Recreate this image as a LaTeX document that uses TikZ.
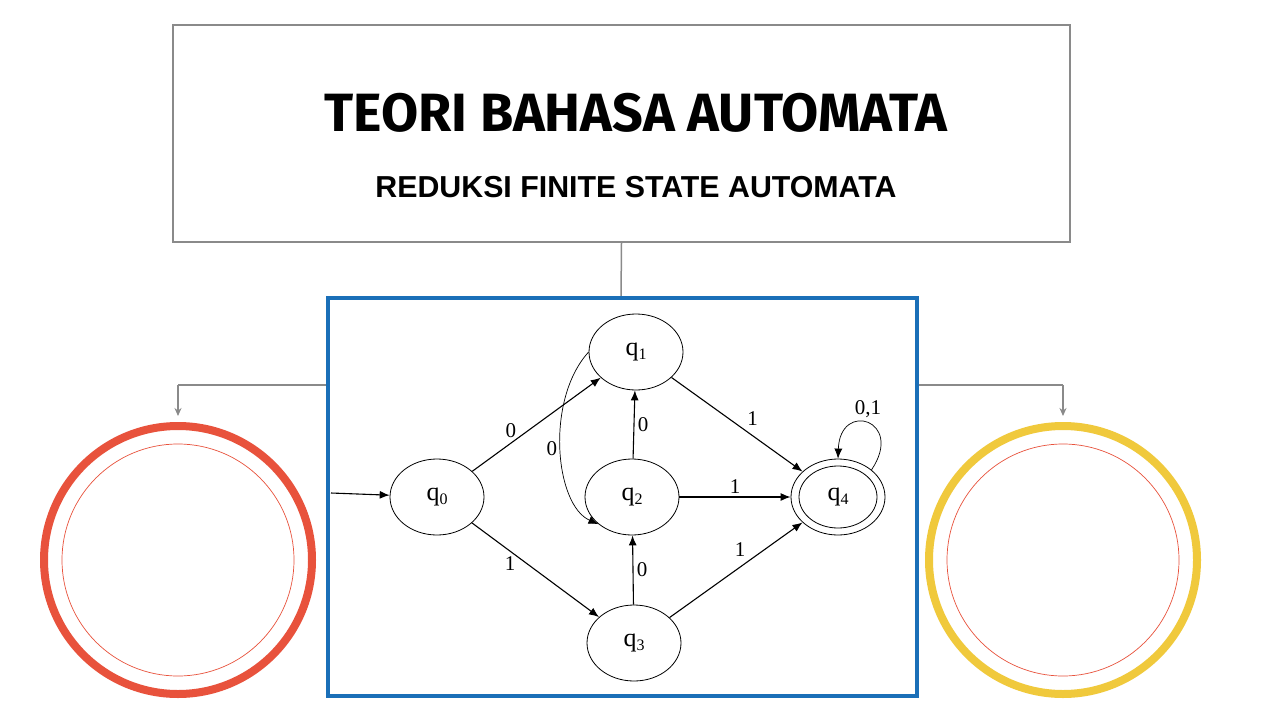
\documentclass[tikz,border=0pt]{standalone}
\usepackage{fontspec}
\setmainfont{Liberation Serif}
\newfontfamily\titlefont{Fira Sans}
\newfontfamily\subfont{Liberation Sans}
\usetikzlibrary{arrows.meta,shapes.geometric}
\definecolor{frame}{HTML}{8A8A8A}
\definecolor{bluebox}{HTML}{1A6FB8}
\definecolor{redc}{HTML}{E8523C}
\definecolor{yelc}{HTML}{F0C93C}
\newcommand{\qs}[1]{q\raisebox{-0.35ex}{\fontsize{16}{16}\selectfont #1}}
\begin{document}
\begin{tikzpicture}[x=1pt,y=-1pt,
  st/.style={draw,ellipse,line width=0.8pt,minimum width=94pt,minimum height=76pt,inner sep=0pt,font=\fontsize{26}{26}\selectfont},
  ed/.style={-{Latex[length=10pt,width=8pt]},line width=1.1pt},
  lb/.style={font=\fontsize{21}{21}\selectfont},
  gl/.style={draw=frame,line width=1.5pt}]
\useasboundingbox (0,0) rectangle (1280,720);
\fill[white] (0,0) rectangle (1280,720);
% title box
\node[gl,minimum width=897pt,minimum height=217pt,inner sep=0pt] (title) at (621.5,133.5) {};
\node (t1) at (636,113) {\resizebox{623pt}{!}{\titlefont\bfseries TEORI BAHASA AUTOMATA}};
\node (t2) at (636,187) {\resizebox{521pt}{!}{\subfont\bfseries REDUKSI FINITE STATE AUTOMATA}};
% connectors
\coordinate (cL) at (178,385); \coordinate (cR) at (1063,385);
\draw[gl] (title.south) -- (621,298);
\draw[gl] (cL) -- (1063,385);
\draw[gl,-{Stealth[length=8pt,width=7pt]}] (cL) -- (178,416);
\draw[gl,-{Stealth[length=8pt,width=7pt]}] (cR) -- (1063,416);
% circles
\node[draw=redc,line width=8pt,circle,minimum size=268pt] (rc) at (178,560) {};
\node[draw=redc,line width=0.7pt,circle,minimum size=232pt] (rci) at (178,560) {};
\node[draw=yelc,line width=8pt,circle,minimum size=268pt] (yc) at (1063,560) {};
\node[draw=redc,line width=0.7pt,circle,minimum size=232pt] (yci) at (1063,560) {};
% blue box
\node[draw=bluebox,fill=white,line width=4pt,minimum width=589pt,minimum height=398pt,inner sep=0pt] (bb) at (622.5,497) {};
% automaton
\node[st] (q0) at (437,497) {\qs{0}};
\node[st] (q1) at (636,352) {\qs{1}};
\node[st] (q2) at (632,497) {\qs{2}};
\node[st] (q3) at (634,643) {\qs{3}};
\node[st] (q4) at (838,497) {\qs{4}};
\node[draw,ellipse,line width=0.8pt,minimum width=78pt,minimum height=62pt] (q4i) at (838,497) {};
\coordinate (in) at (331,493);
\draw[ed] (in) -- (q0);
\draw[ed] (q0) -- node[lb,above,pos=0.3,yshift=2pt] {0} (q1);
\draw[ed] (q0) -- node[lb,below,pos=0.3,yshift=-2pt] {1} (q3);
\draw[ed] (q1) -- node[lb,above right,pos=0.55] {1} (q4);
\draw[ed] (q2) -- node[lb,right] {0} (q1);
\draw[ed] (q3) -- node[lb,right] {0} (q2);
\draw[ed] (q2) -- node[lb,above] {1} (q4);
\draw[ed] (q3) -- node[lb,above left,pos=0.6] {1} (q4);
\draw[ed,line width=0.7pt] (q1.west) .. controls (545,400) and (555,505) .. node[lb,left,pos=0.5] {0} (q2.south west);
\draw[ed,line width=0.7pt] (q4.north east) .. controls (905,420) and (840,400) .. node[lb,above,pos=0.5,yshift=2pt] {0,1} (q4.north);
\end{tikzpicture}
\end{document}
